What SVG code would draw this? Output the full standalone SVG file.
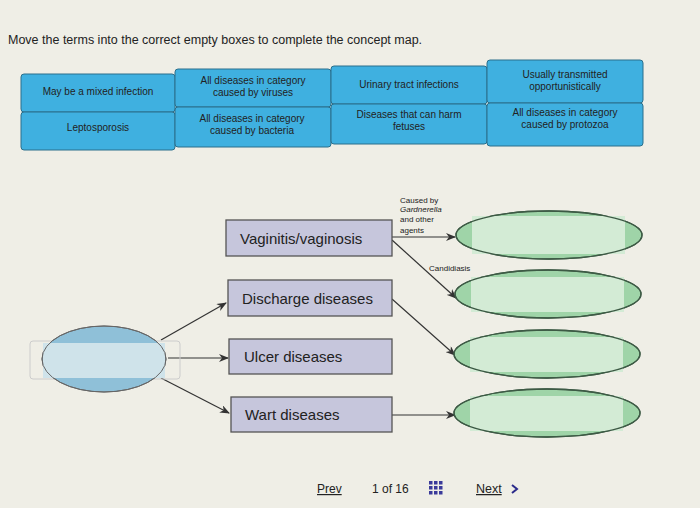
<svg xmlns="http://www.w3.org/2000/svg" width="700" height="508" viewBox="0 0 700 508">
<style>
text{font-family:"Liberation Sans",Arial,sans-serif;fill:#222}
.t{font-size:10px;text-anchor:middle}
.term{fill:#3fb0e0;stroke:#2a6f8c;stroke-width:1}
.box{fill:#c6c6dc;stroke:#555;stroke-width:1.3}
.bt{font-size:15px}
.ge{fill:#9fd4a8;stroke:#3d5a45;stroke-width:1.3}
.gi{fill:#d3ebd5}
.c{stroke:#333;stroke-width:1.2;fill:none;marker-end:url(#a)}
.lbl{font-size:8px}
</style>
<defs><marker id="a" markerWidth="10" markerHeight="8" refX="9" refY="4" orient="auto" markerUnits="userSpaceOnUse"><path d="M0,0L10,4L0,8L3,4Z" fill="#333"/></marker></defs>
<rect width="700" height="508" fill="#efeee6"/>
<text x="8" y="44" font-size="12.5">Move the terms into the correct empty boxes to complete the concept map.</text>
<g id="terms">
<rect class="term" x="21" y="74" width="154" height="38" rx="3"/><text class="t" x="98" y="95">May be a mixed infection</text>
<rect class="term" x="175" y="69" width="156" height="38" rx="3"/><text class="t" x="253" y="84">All diseases in category</text><text class="t" x="253" y="96">caused by viruses</text>
<rect class="term" x="331" y="66" width="156" height="38" rx="3"/><text class="t" x="409" y="88">Urinary tract infections</text>
<rect class="term" x="487" y="60" width="156" height="43" rx="3"/><text class="t" x="565" y="78">Usually transmitted</text><text class="t" x="565" y="90">opportunistically</text>
<rect class="term" x="21" y="112" width="154" height="38" rx="3"/><text class="t" x="98" y="131">Leptosporosis</text>
<rect class="term" x="175" y="107" width="156" height="40" rx="3"/><text class="t" x="252" y="122">All diseases in category</text><text class="t" x="252" y="134">caused by bacteria</text>
<rect class="term" x="331" y="104" width="156" height="40" rx="3"/><text class="t" x="409" y="118">Diseases that can harm</text><text class="t" x="409" y="130">fetuses</text>
<rect class="term" x="487" y="103" width="156" height="43" rx="3"/><text class="t" x="565" y="116">All diseases in category</text><text class="t" x="565" y="128">caused by protozoa</text>
</g>
<g id="connectors">
<path class="c" d="M161,340L226,303"/>
<path class="c" d="M168,358L228,358"/>
<path class="c" d="M161,378L229,413"/>
<path class="c" d="M392,237L455,237"/>
<path class="c" d="M392,240L456,298"/>
<path class="c" d="M392,299L455,355"/>
<path class="c" d="M392,415L455,415"/>
<text class="lbl" x="400" y="203">Caused by</text>
<text class="lbl" x="400" y="212" font-style="italic">Gardnerella</text>
<text class="lbl" x="400" y="222">and other</text>
<text class="lbl" x="400" y="233">agents</text>
<text class="lbl" x="429" y="271">Candidiasis</text>
</g>
<g id="root">
<rect x="30" y="341" width="150" height="38" rx="3" fill="none" stroke="#ccc"/>
<ellipse cx="104" cy="359" rx="62" ry="33" fill="#8fc0d8" stroke="#666"/>
<rect x="43" y="343" width="122" height="35" fill="#cfe3ea"/>
<ellipse cx="104" cy="359" rx="62" ry="33" fill="none" stroke="#666"/>
</g>
<g id="vag"><rect class="box" x="226" y="220" width="166" height="36"/><text class="bt" x="240" y="244">Vaginitis/vaginosis</text></g>
<g id="dis"><rect class="box" x="228" y="280" width="164" height="36"/><text class="bt" x="242" y="304">Discharge diseases</text></g>
<g id="ulc"><rect class="box" x="229" y="339" width="163" height="35"/><text class="bt" x="244" y="362">Ulcer diseases</text></g>
<g id="wart"><rect class="box" x="231" y="397" width="161" height="35"/><text class="bt" x="245" y="420">Wart diseases</text></g>
<g id="g1"><ellipse class="ge" cx="549" cy="235" rx="93" ry="24"/><rect class="gi" x="472" y="216" width="153" height="38"/><ellipse cx="549" cy="235" rx="93" ry="24" fill="none" stroke="#3d5a45" stroke-width="1.3"/></g>
<g id="g2"><ellipse class="ge" cx="548" cy="294" rx="93" ry="24"/><rect class="gi" x="471" y="277" width="153" height="35"/><ellipse cx="548" cy="294" rx="93" ry="24" fill="none" stroke="#3d5a45" stroke-width="1.3"/></g>
<g id="g3"><ellipse class="ge" cx="547" cy="354" rx="93" ry="24"/><rect class="gi" x="470" y="337" width="153" height="35"/><ellipse cx="547" cy="354" rx="93" ry="24" fill="none" stroke="#3d5a45" stroke-width="1.3"/></g>
<g id="g4"><ellipse class="ge" cx="547" cy="413" rx="93" ry="24"/><rect class="gi" x="470" y="396" width="153" height="35"/><ellipse cx="547" cy="413" rx="93" ry="24" fill="none" stroke="#3d5a45" stroke-width="1.3"/></g>
<g id="nav">
<text x="317" y="493" font-size="12" fill="#666" text-decoration="underline">Prev</text>
<text x="372" y="493" font-size="12">1 of 16</text>
<g fill="#3a3a9a"><rect x="429" y="481" width="3.5" height="3.5"/><rect x="434" y="481" width="3.5" height="3.5"/><rect x="439" y="481" width="3.5" height="3.5"/><rect x="429" y="486" width="3.5" height="3.5"/><rect x="434" y="486" width="3.5" height="3.5"/><rect x="439" y="486" width="3.5" height="3.5"/><rect x="429" y="491" width="3.5" height="3.5"/><rect x="434" y="491" width="3.5" height="3.5"/><rect x="439" y="491" width="3.5" height="3.5"/></g>
<text x="476" y="493" font-size="12.5" fill="#2a2a8a" text-decoration="underline">Next</text>
<path d="M512,485L517,489L512,493" stroke="#2a2a8a" stroke-width="2" fill="none"/>
</g>
</svg>
